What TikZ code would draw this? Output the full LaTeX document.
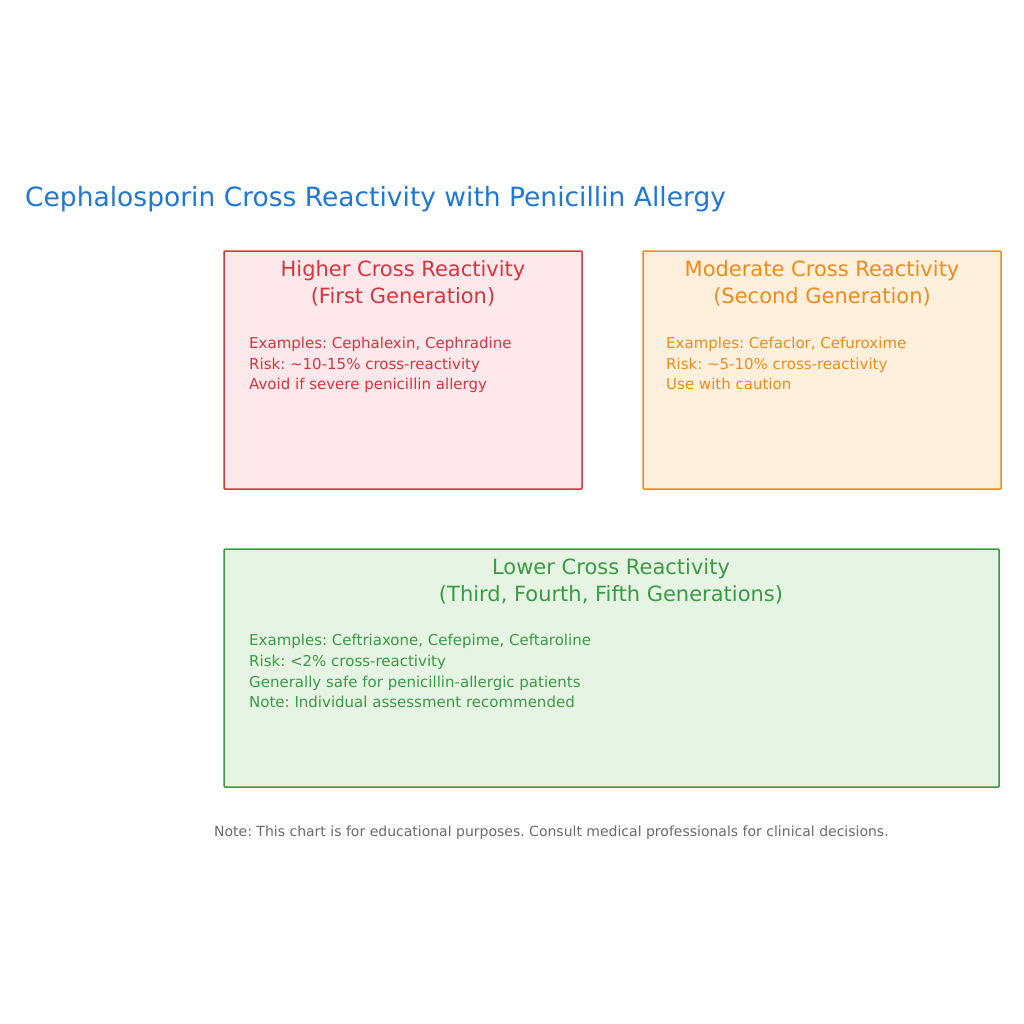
\documentclass[tikz,border=0pt]{standalone}
\usepackage{fontspec}
\setmainfont{DejaVu Sans}
\frenchspacing
\definecolor{ttl}{HTML}{1F78D1}
\definecolor{redS}{HTML}{D7353C}
\definecolor{redF}{HTML}{FFE8EC}
\definecolor{orS}{HTML}{F08A1C}
\definecolor{orF}{HTML}{FFF0DE}
\definecolor{grS}{HTML}{3A9B44}
\definecolor{grF}{HTML}{E6F4E4}
\definecolor{noteC}{HTML}{6B6B6B}
\tikzset{
  panel/.style={draw=#1, line width=1.5pt, rounded corners=1pt},
  head/.style={text=#1, font=\fontsize{21}{27.5}\selectfont, align=center, anchor=north, inner sep=0pt},
  body/.style={text=#1, font=\fontsize{15}{20.7}\selectfont, align=left, anchor=north west, inner sep=0pt},
}
\begin{document}
\begin{tikzpicture}[x=1pt,y=-1pt]
\useasboundingbox[fill=white] (0,0) rectangle (1024,1024);
\node[anchor=west, inner sep=0pt, text=ttl, font=\fontsize{26.5}{30}\selectfont] (title) at (25,199) {Cephalosporin Cross Reactivity with Penicillin Allergy};

\path[panel=redS, fill=redF] (224,251) rectangle (582,489);
\node[head=redS] (redhead) at (403,260) {Higher Cross Reactivity\\(First Generation)};
\node[body=redS] (redbody) at (249,337) {Examples: Cephalexin, Cephradine\\Risk: \textasciitilde10-15\% cross-reactivity\\Avoid if severe penicillin allergy};

\path[panel=orS, fill=orF] (643,251) rectangle (1001,489);
\node[head=orS] (orhead) at (822,260) {Moderate Cross Reactivity\\(Second Generation)};
\node[body=orS] (orbody) at (666,337) {Examples: Cefaclor, Cefuroxime\\Risk: \textasciitilde5-10\% cross-reactivity\\Use with caution};

\path[panel=grS, fill=grF] (224,549) rectangle (999,787);
\node[head=grS] (grhead) at (611,558) {Lower Cross Reactivity\\(Third, Fourth, Fifth Generations)};
\node[body=grS] (grbody) at (249,634) {Examples: Ceftriaxone, Cefepime, Ceftaroline\\Risk: <2\% cross-reactivity\\Generally safe for penicillin-allergic patients\\Note: Individual assessment recommended};

\node[anchor=west, inner sep=0pt, text=noteC, font=\fontsize{14}{15}\selectfont] (note) at (214,833) {Note: This chart is for educational purposes. Consult medical professionals for clinical decisions.};
\end{tikzpicture}
\end{document}
